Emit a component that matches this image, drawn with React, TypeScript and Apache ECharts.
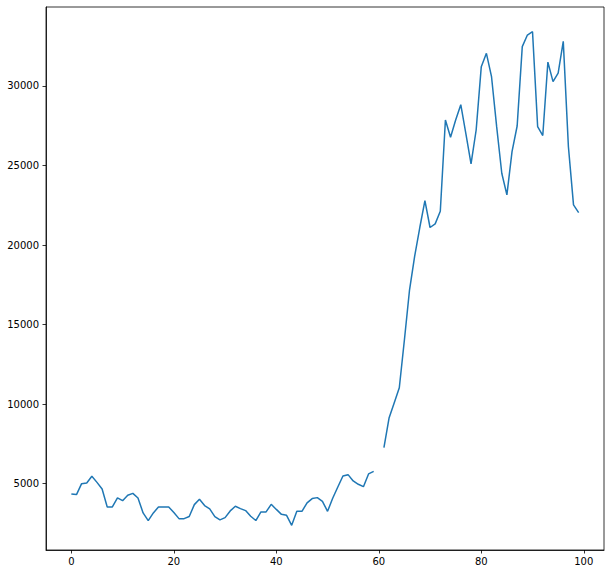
import React, { useEffect, useRef } from "react";
import * as echarts from "echarts";

const values: (number | null)[] = [
  4350, 4310, 5000, 5040, 5460, 5080, 4665, 3535, 3535, 4100,
  3930, 4270, 4390, 4100, 3160, 2680, 3160, 3535, 3535, 3535,
  3180, 2800, 2800, 2930, 3680, 4015, 3620, 3410, 2930, 2720,
  2865, 3285, 3575, 3430, 3305, 2950, 2680, 3220, 3220, 3700,
  3380, 3070, 3010, 2380, 3260, 3260, 3790, 4060, 4120, 3890,
  3260, 4080, 4790, 5480, 5565, 5170, 4960, 4810, 5610, 5770,
  null, 7260, 9125, 10070, 11030, 14045, 17185, 19300, 21100, 22790,
  21100, 21330, 22120, 27860, 26770, 27860, 28820, 26980, 25100, 27230,
  31210, 32050, 30580, 27440, 24510, 23150, 25870, 27480, 32470, 33200,
  33410, 27440, 26880, 31500, 30270, 30800, 32800, 26190, 22520, 22040,
];

const xTicks = [0, 20, 40, 60, 80, 100];
const yTicks = [5000, 10000, 15000, 20000, 25000, 30000];

export default function App() {
  const ref = useRef<HTMLDivElement>(null);
  useEffect(() => {
    if (!ref.current) return;
    const chart = echarts.init(ref.current, null, { renderer: "svg" });
    const nums = values.filter((v): v is number => v !== null);
    const yMinD = Math.min(...nums);
    const yMaxD = Math.max(...nums);
    const yPad = (yMaxD - yMinD) * 0.05;
    const xMinD = 0;
    const xMaxD = values.length - 1;
    const xPad = (xMaxD - xMinD) * 0.05;
    const labelStyle = {
      fontFamily: "DejaVu Sans",
      fontSize: 10,
      color: "#000",
    };
    chart.setOption({
      animation: false,
      grid: {
        left: 46,
        top: 7,
        right: 6,
        bottom: 25,
        show: true,
        borderColor: "#000",
        borderWidth: 0.8,
        backgroundColor: "transparent",
      },
      xAxis: {
        type: "value",
        min: xMinD - xPad,
        max: xMaxD + xPad,
        splitLine: { show: false },
        axisLine: { show: true, onZero: false, lineStyle: { color: "#000", width: 0.8 } },
        axisTick: {
          show: true,
          length: 3.5,
          inside: false,
          lineStyle: { color: "#000", width: 0.8 },
          customValues: xTicks,
        },
        axisLabel: {
          ...labelStyle,
          margin: 6,
          customValues: xTicks,
          formatter: (v: number) => String(v),
        },
      },
      yAxis: {
        type: "value",
        min: yMinD - yPad,
        max: yMaxD + yPad,
        splitLine: { show: false },
        axisLine: { show: true, onZero: false, lineStyle: { color: "#000", width: 0.8 } },
        axisTick: {
          show: true,
          length: 3.5,
          inside: false,
          lineStyle: { color: "#000", width: 0.8 },
          customValues: yTicks,
        },
        axisLabel: {
          ...labelStyle,
          margin: 7,
          customValues: yTicks,
          formatter: (v: number) => String(v),
        },
      },
      series: [
        {
          type: "line",
          data: values.map((v, i) => [i, v === null ? "-" : v]),
          showSymbol: false,
          symbol: "none",
          connectNulls: false,
          lineStyle: { color: "#1f77b4", width: 1.5 },
          itemStyle: { color: "#1f77b4" },
        },
      ],
    });
    return () => chart.dispose();
  }, []);
  return (
    <div
      ref={ref}
      style={{ position: "absolute", left: 0, top: 0, width: 610, height: 575 }}
    />
  );
}
